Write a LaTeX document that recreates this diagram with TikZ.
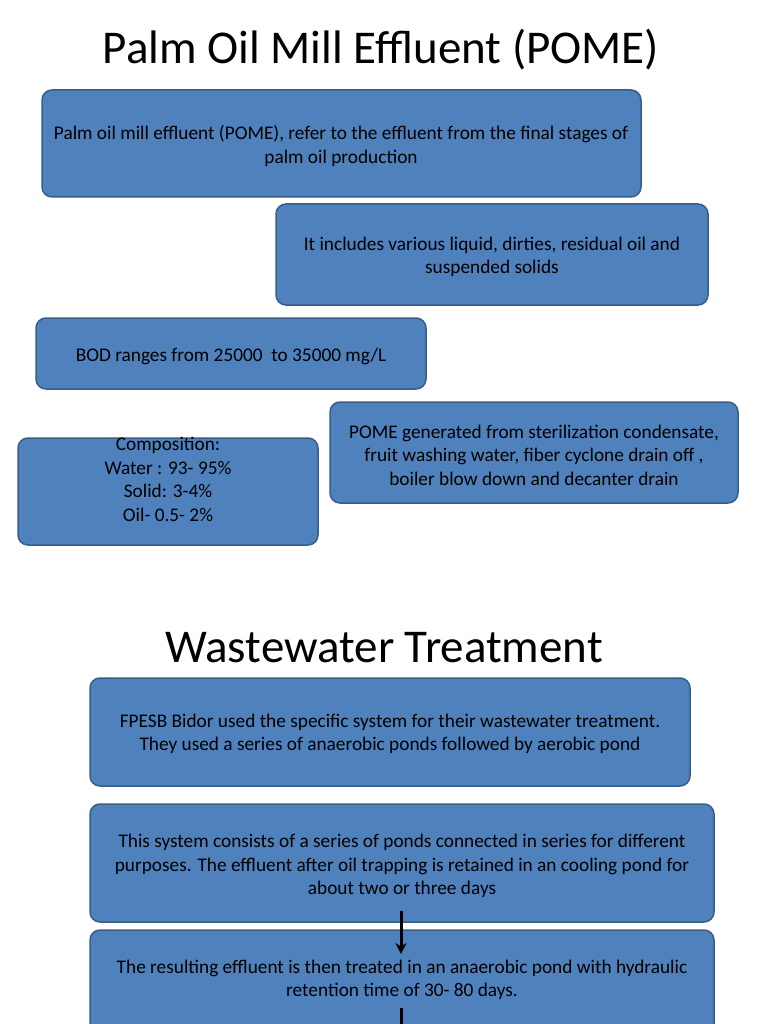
\documentclass[tikz,border=0pt]{standalone}
\usepackage{fontspec}
\setmainfont{Carlito}
\usetikzlibrary{arrows.meta}
\definecolor{boxfill}{HTML}{4F81BD}
\definecolor{boxline}{HTML}{385D8A}
\begin{document}
\begin{tikzpicture}[x=1pt,y=-1pt,
  pbox/.style={draw=boxline,line width=1.5pt,fill=boxfill,rounded corners=10pt},
  btext/.style={align=center,font=\fontsize{19.3}{23.5}\selectfont,text=black},
  ttl/.style={font=\fontsize{47}{54}\selectfont,text=black}]
\useasboundingbox (0,0) rectangle (768,1024);
\node[ttl] (t1) at (381,50) {Palm Oil Mill Effluent (POME)};
\draw[pbox] (42,90) rectangle (641,197);
\node[btext] (b1) at (341,146) {Palm oil mill effluent (POME), refer to the effluent from the final stages of\\palm oil production};
\draw[pbox] (276,204) rectangle (708,305);
\node[btext] (b2) at (492,257) {It includes various liquid, dirties, residual oil and\\suspended solids};
\draw[pbox] (36,318) rectangle (426,389);
\node[btext] (b3) at (231,356) {BOD ranges from 25000 \ to 35000 mg/L};
\draw[pbox] (330,402) rectangle (738,503);
\node[btext] (b4) at (534,455) {POME generated from sterilization condensate,\\fruit washing water, fiber cyclone drain off ,\\boiler blow down and decanter drain};
\draw[pbox] (18,438) rectangle (318,545);
\node[btext,anchor=north] (b5) at (168,434) {Composition:\\Water : 93- 95\%\\Solid: 3-4\%\\Oil- 0.5- 2\%};
\node[ttl] (t2) at (384,648) {Wastewater Treatment};
\draw[pbox] (90,678) rectangle (690,786);
\node[btext] (b6) at (390,734) {FPESB Bidor used the specific system for their wastewater treatment.\\They used a series of anaerobic ponds followed by aerobic pond};
\draw[pbox] (90,804) rectangle (714,922);
\node[btext] (b7) at (402,866) {This system consists of a series of ponds connected in series for different\\purposes. The effluent after oil trapping is retained in an cooling pond for\\about two or three days};
\draw[pbox] (90,930) rectangle (714,1040);
\node[btext] (b8) at (402,980) {The resulting effluent is then treated in an anaerobic pond with hydraulic\\retention time of 30- 80 days.};
\coordinate (a1) at (401,911);
\coordinate (a2) at (401,954);
\coordinate (a3) at (401,1008);
\coordinate (a4) at (401,1030);
\draw[line width=3pt,-{Stealth[length=11pt,width=11pt]}] (a1) -- (a2);
\draw[line width=3pt] (a3) -- (a4);
\end{tikzpicture}
\end{document}
